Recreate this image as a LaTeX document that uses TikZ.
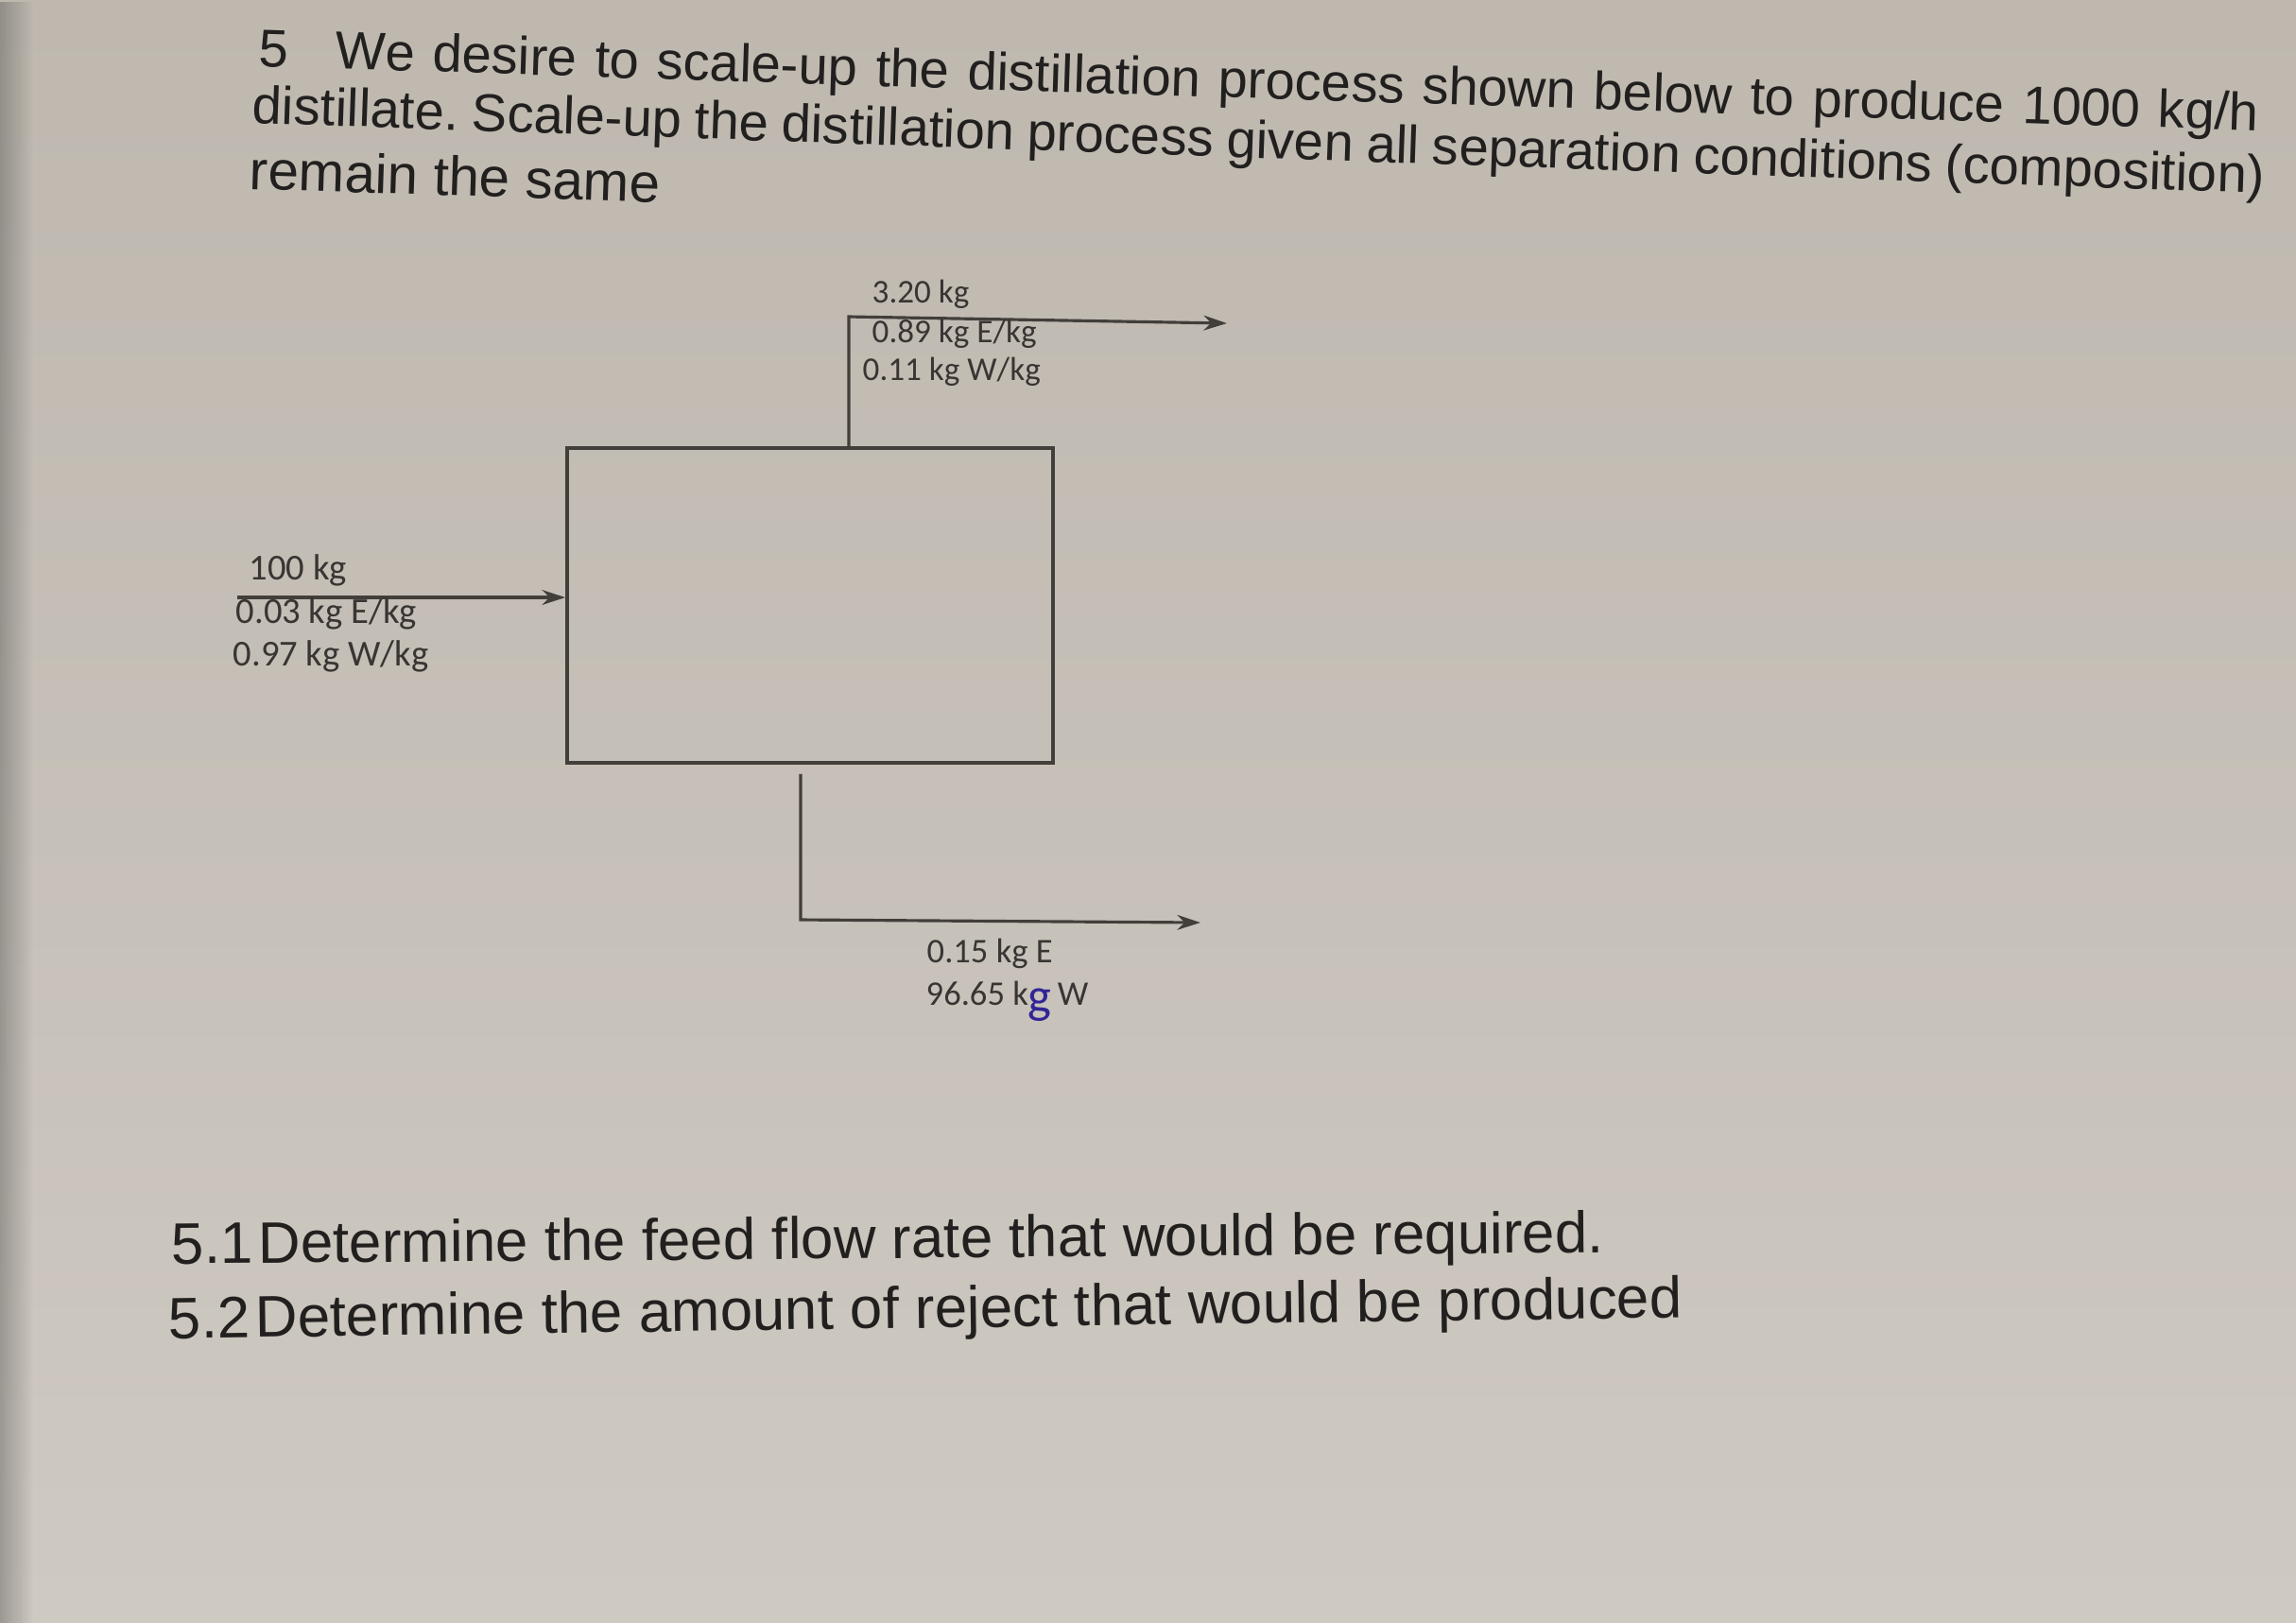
\documentclass[tikz,border=0pt]{standalone}
\usepackage{fontspec}
\setmainfont{Liberation Sans}
\newfontfamily\labelfont{Carlito}
\usetikzlibrary{arrows.meta,fadings}
\definecolor{paperdark}{RGB}{190,184,175}
\definecolor{paperlight}{RGB}{206,201,193}
\definecolor{ink}{RGB}{34,32,31}
\definecolor{ink2}{RGB}{56,53,51}
\definecolor{linecol}{RGB}{66,62,58}
\definecolor{inkblue}{RGB}{50,36,150}
\tikzset{
  titleline/.style={anchor=base west, inner sep=0pt, text=ink, font=\fontsize{16}{19}\selectfont},
  questionline/.style={anchor=base west, inner sep=0pt, text=ink, font=\fontsize{17.6}{21}\selectfont},
  flowlabel/.style={anchor=base west, inner sep=0pt, text=ink2, font=\labelfont\fontsize{10}{12}\selectfont},
  feedlabel/.style={flowlabel, font=\labelfont\fontsize{11}{13}\selectfont},
  bottomlabel/.style={flowlabel, font=\labelfont\fontsize{10.4}{12}\selectfont},
  flowline/.style={draw=linecol, line width=0.9pt},
  arrowline/.style={flowline, -{Stealth[length=7pt,width=4.5pt]}},
  unitbox/.style={draw=linecol, line width=1.1pt, minimum width=5.14cm, minimum height=3.33cm, inner sep=0pt}
}
\begin{document}
\frenchspacing
\begin{tikzpicture}[x=1cm,y=1cm]
\useasboundingbox (0,0) rectangle (24.29,-17.16);
\shade[top color=paperdark, bottom color=paperlight] (0,0) rectangle (24.29,-17.16);
\fill[black!75, path fading=east, opacity=0.35] (0,0) rectangle (0.35,-17.16);

% title
\node[titleline, rotate=-1.85] (t1) at (2.73,-0.70) {\makebox[21.17cm][s]{5\hspace{0.5cm}We desire to scale-up the distillation process shown below to produce 1000 kg/h}};
\node[titleline, rotate=-2.0] (t2) at (2.66,-1.30) {\makebox[21.30cm][s]{distillate. Scale-up the distillation process given all separation conditions (composition)}};
\node[titleline, rotate=-1.85, font=\fontsize{16.6}{19}\selectfont] (t3) at (2.63,-2.00) {remain the same};

% unit
\node[unitbox] (unit) at (8.57,-6.405) {};

% feed
\coordinate (feedstart) at (2.51,-6.32);
\draw[arrowline] (feedstart) -- (feedstart -| unit.west);
\node[feedlabel] (f1) at (2.63,-6.13) {100 kg};
\node[feedlabel] (f2) at (2.49,-6.59) {0.03 kg E/kg};
\node[feedlabel] (f3) at (2.46,-7.04) {0.97 kg W/kg};

% distillate
\coordinate (topcorner) at (8.98,-3.35);
\coordinate (topend) at (12.98,-3.42);
\draw[arrowline] (unit.north -| topcorner) -- (topcorner) -- (topend);
\node[flowlabel] (d1) at (9.22,-3.20) {3.20 kg};
\node[flowlabel] (d2) at (9.22,-3.62) {0.89 kg E/kg};
\node[flowlabel] (d3) at (9.12,-4.02) {0.11 kg W/kg};

% bottoms
\coordinate (botcorner) at (8.47,-9.73);
\coordinate (botend) at (12.70,-9.76);
\draw[arrowline] ([yshift=-0.1cm]unit.south -| botcorner) -- (botcorner) -- (botend);
\node[bottomlabel] (b1) at (9.80,-10.18) {0.15 kg E};
\node[bottomlabel] (b2) at (9.79,-10.63) {96.65 k\raisebox{-2.5pt}{\color{inkblue}\fontsize{15}{15}\selectfont g}\,W};

% questions
\node[questionline, rotate=0.45] (q1) at (1.81,-13.37) {5.1\hspace{0.06cm}Determine the feed flow rate that would be required.};
\node[questionline, rotate=0.8] (q2) at (1.78,-14.16) {5.2\hspace{0.06cm}Determine the amount of reject that would be produced};
\end{tikzpicture}
\end{document}
